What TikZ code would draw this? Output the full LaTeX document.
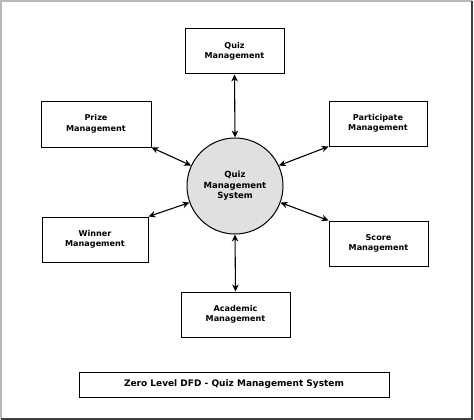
\documentclass[tikz,border=0pt]{standalone}
\usepackage{fontspec}
\setmainfont{DejaVu Sans}
\usetikzlibrary{arrows.meta}
\definecolor{circfill}{HTML}{E0E0E0}
\definecolor{lightframe}{HTML}{B8B8B8}
\definecolor{darkframe}{HTML}{404040}
\tikzset{
  procbox/.style={draw=black, line width=1pt, fill=white, inner sep=0pt, align=center,
    font=\fontsize{8.1}{10.5}\selectfont\bfseries},
  proccirc/.style={draw=black, line width=1pt, fill=circfill, circle, inner sep=0pt,
    minimum size=96pt, align=center, font=\fontsize{8.5}{10.5}\selectfont\bfseries},
  flow/.style={line width=1.1pt, {Stealth[length=7pt,width=6.5pt]}-{Stealth[length=7pt,width=6.5pt]}},
  titlebox/.style={draw=black, line width=1pt, fill=white, inner sep=0pt,
    font=\fontsize{9}{10}\selectfont\bfseries}
}
\begin{document}
\begin{tikzpicture}[x=1pt,y=-1pt]
\useasboundingbox (0,0) rectangle (474,420);
\fill[white] (0,0) rectangle (474,420);
\draw[lightframe, line width=1.5pt] (1,419) -- (1,1) -- (472,1);
\draw[darkframe, line width=2pt] (472,1) -- (472,419) -- (1,419);
\node[procbox, minimum width=99pt, minimum height=45pt] (quiz) at (234.5,51.5) {Quiz\\Management};
\node[procbox, minimum width=110pt, minimum height=46pt] (prize) at (96,124) {Prize\\Management};
\node[procbox, minimum width=98pt, minimum height=45pt] (part) at (378,123.5) {Participate\\Management};
\node[proccirc] (sys) at (235,186) {Quiz\\Management\\System};
\node[procbox, minimum width=106pt, minimum height=45pt] (win) at (95,239.5) {Winner\\Management};
\node[procbox, minimum width=99pt, minimum height=45pt] (score) at (378.5,243.5) {Score\\Management};
\node[procbox, minimum width=109pt, minimum height=45pt] (acad) at (235.5,314.5) {Academic\\Management};
\node[titlebox, minimum width=310pt, minimum height=25pt] (title) at (234,384.5) {Zero Level DFD - Quiz Management System};
\draw[flow] (quiz.south) -- (sys.north);
\draw[flow] (prize.south east) -- (sys.155);
\draw[flow] (part.south west) -- (sys.25);
\draw[flow] (win.north east) -- (sys.200);
\draw[flow] (score.north west) -- (sys.-20);
\draw[flow] (sys.south) -- (acad.north);
\end{tikzpicture}
\end{document}
